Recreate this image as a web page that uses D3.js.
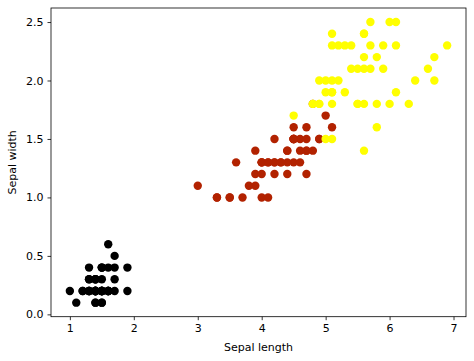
<!DOCTYPE html>
<html><head><meta charset="utf-8">
<script src="https://cdn.jsdelivr.net/npm/d3@7"></script>
<style>body{margin:0;background:#fff}svg{display:block}text{font-family:"DejaVu Sans",sans-serif}</style>
</head><body><svg id="c" width="474" height="361"></svg>
<script>
const setosaX=[1.4,1.4,1.3,1.5,1.4,1.7,1.4,1.5,1.4,1.5,1.5,1.6,1.4,1.1,1.2,1.5,1.3,1.4,1.7,1.5,1.7,1.5,1.0,1.7,1.9,1.6,1.6,1.5,1.4,1.6,1.6,1.5,1.5,1.4,1.5,1.2,1.3,1.4,1.3,1.5,1.3,1.3,1.3,1.6,1.9,1.4,1.6,1.4,1.5,1.4];
const setosaY=[0.2,0.2,0.2,0.2,0.2,0.4,0.3,0.2,0.2,0.1,0.2,0.2,0.1,0.1,0.2,0.4,0.4,0.3,0.3,0.3,0.2,0.4,0.2,0.5,0.2,0.2,0.4,0.2,0.2,0.2,0.2,0.4,0.1,0.2,0.2,0.2,0.2,0.1,0.2,0.2,0.3,0.3,0.2,0.6,0.4,0.3,0.2,0.2,0.2,0.2];
const versicolorX=[4.7,4.5,4.9,4.0,4.6,4.5,4.7,3.3,4.6,3.9,3.5,4.2,4.0,4.7,3.6,4.4,4.5,4.1,4.5,3.9,4.8,4.0,4.9,4.7,4.3,4.4,4.8,5.0,4.5,3.5,3.8,3.7,3.9,5.1,4.5,4.5,4.7,4.4,4.1,4.0,4.4,4.6,4.0,3.3,4.2,4.2,4.2,4.3,3.0,4.1];
const versicolorY=[1.4,1.5,1.5,1.3,1.5,1.3,1.6,1.0,1.3,1.4,1.0,1.5,1.0,1.4,1.3,1.4,1.5,1.0,1.5,1.1,1.8,1.3,1.5,1.2,1.3,1.4,1.4,1.7,1.5,1.0,1.1,1.0,1.2,1.6,1.5,1.6,1.5,1.3,1.3,1.3,1.2,1.4,1.2,1.0,1.3,1.2,1.3,1.3,1.1,1.3];
const virginicaX=[6.0,5.1,5.9,5.6,5.8,6.6,4.5,6.3,5.8,6.1,5.1,5.3,5.5,5.0,5.1,5.3,5.5,6.7,6.9,5.0,5.7,4.9,6.7,4.9,5.7,6.0,4.8,4.9,5.6,5.8,6.1,6.4,5.6,5.1,5.6,6.1,5.6,5.5,4.8,5.4,5.6,5.1,5.1,5.9,5.7,5.2,5.0,5.2,5.4,5.1];
const virginicaY=[2.5,1.9,2.1,1.8,2.2,2.1,1.7,1.8,1.8,2.5,2.0,1.9,2.1,2.0,2.4,2.3,1.8,2.2,2.3,1.5,2.3,2.0,2.0,1.8,2.1,1.8,1.8,1.8,2.1,1.6,1.9,2.0,2.2,1.5,1.4,2.3,2.4,1.8,1.8,2.1,2.4,2.3,1.9,2.3,2.5,2.3,1.9,2.0,2.3,1.8];
const xTicks=[1,2,3,4,5,6,7];
const yTicks=[0.0,0.5,1.0,1.5,2.0,2.5];
const seriesColors=["#000000","#b22200","#ffff00"];

const svg=d3.select("#c");
const L=51,R=466,T=8,B=316.7;
const x=d3.scaleLinear().domain([0.705,7.195]).range([L,R]);
const y=d3.scaleLinear().domain([-0.02,2.62]).range([B,T]);

const series=[[setosaX,setosaY],[versicolorX,versicolorY],[virginicaX,virginicaY]];
series.forEach((s,i)=>{
  svg.append("g").selectAll("circle").data(s[0].map((v,j)=>[v,s[1][j]])).join("circle")
    .attr("cx",d=>x(d[0])).attr("cy",d=>y(d[1])).attr("r",4.2).attr("fill",seriesColors[i]);
});

const xa=svg.append("g").attr("transform",`translate(0,${B})`)
  .call(d3.axisBottom(x).tickValues(xTicks).tickFormat(d3.format("d")).tickSize(3.5).tickPadding(4));
const ya=svg.append("g").attr("transform",`translate(${L},0)`)
  .call(d3.axisLeft(y).tickValues(yTicks).tickFormat(d3.format(".1f")).tickSize(3.5).tickPadding(4));
[xa,ya].forEach(a=>{a.select(".domain").remove();a.selectAll("text").attr("font-size",11).attr("fill","#000");a.selectAll("line").attr("stroke","#000").attr("stroke-width",0.8);});

svg.append("rect").attr("x",L).attr("y",T).attr("width",R-L).attr("height",B-T)
  .attr("fill","none").attr("stroke","#000").attr("stroke-width",0.8);

svg.append("text").attr("x",(L+R)/2).attr("y",351).attr("text-anchor","middle").attr("font-size",11).text("Sepal length");
svg.append("text").attr("transform",`translate(16,${(T+B)/2}) rotate(-90)`).attr("text-anchor","middle").attr("font-size",11).text("Sepal width");
</script></body></html>
